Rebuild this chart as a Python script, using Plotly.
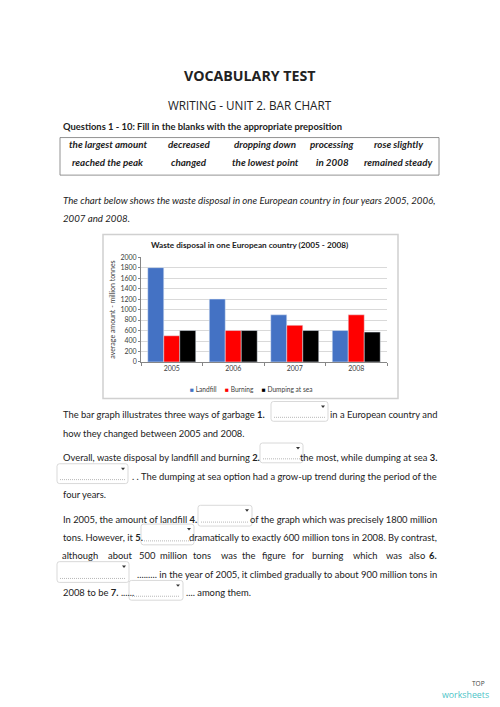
import plotly.graph_objects as go

years = ["2005", "2006", "2007", "2008"]
landfill = [1800, 1200, 900, 600]
burning = [500, 600, 700, 900]
dumping = [600, 600, 600, 570]
series_names = ["Landfill", "Burning", "Dumping at sea"]
series_colors = ["#4472C4", "#FF0000", "#000000"]
y_ticks = [0, 200, 400, 600, 800, 1000, 1200, 1400, 1600, 1800, 2000]

word_row1 = ["the largest amount", "decreased", "dropping down", "processing", "rose slightly"]
word_row2 = ["reached the peak", "changed", "the lowest point", "in 2008", "remained steady"]
word_cols = [108, 189, 265, 332, 399]

BODY = "Lato"
TXT = "#222222"
FS = 9.4

# the page has an 8px body margin, so the figure is 492x699 placed at (8, 8)
W, H = 492, 699


def X(px):
    return (px - 8) / W


def Y(py):
    return 1 - (py - 8) / H


fig = go.Figure()
for vals, name, col in zip([landfill, burning, dumping], series_names, series_colors):
    fig.add_trace(go.Bar(x=years, y=vals, name=name, marker_color=col))

ann = []


def text(x, y, s, size=FS, anchor="left", color=TXT, family=BODY):
    ann.append(dict(x=X(x), y=Y(y), xref="paper", yref="paper", text=s, showarrow=False,
                    xanchor=anchor, yanchor="middle",
                    font=dict(family=family, size=size, color=color)))


shapes = []


def blank(x0, y0, x1, y1):
    # dropdown answer box
    r = 2.5
    path = (f"M {X(x0 + r)},{Y(y0)} L {X(x1 - r)},{Y(y0)} Q {X(x1)},{Y(y0)} {X(x1)},{Y(y0 + r)} "
            f"L {X(x1)},{Y(y1 - r)} Q {X(x1)},{Y(y1)} {X(x1 - r)},{Y(y1)} "
            f"L {X(x0 + r)},{Y(y1)} Q {X(x0)},{Y(y1)} {X(x0)},{Y(y1 - r)} "
            f"L {X(x0)},{Y(y0 + r)} Q {X(x0)},{Y(y0)} {X(x0 + r)},{Y(y0)} Z")
    shapes.append(dict(type="path", xref="paper", yref="paper", path=path,
                       line=dict(color="#cfcfcf", width=0.8), fillcolor="white", layer="above"))
    shapes.append(dict(type="line", xref="paper", yref="paper", x0=X(x0 + 3), x1=X(x1 - 3),
                       y0=Y(y1 - 4), y1=Y(y1 - 4),
                       line=dict(color="#888888", width=0.6, dash="1px,1px"), layer="above"))
    # small dropdown arrow
    ax, ay = x1 - 5, y0 + 5
    tri = f"M {X(ax - 2)},{Y(ay - 1)} L {X(ax + 2)},{Y(ay - 1)} L {X(ax)},{Y(ay + 1.5)} Z"
    shapes.append(dict(type="path", xref="paper", yref="paper", path=tri,
                       line=dict(width=0), fillcolor="#333333", layer="above"))


# headings
text(250, 71, "<b>VOCABULARY TEST</b>", size=14.2, anchor="center", family="Open Sans")
text(250, 101, "WRITING - UNIT 2. BAR CHART", size=11.7, anchor="center", family="Open Sans")
text(61, 123, "<b>Questions 1 - 10: Fill in the blanks with the appropriate preposition</b>", size=9.4)

shapes.append(dict(type="rect", xref="paper", yref="paper", x0=X(60), x1=X(439),
                   y0=Y(172), y1=Y(134), line=dict(color="#777777", width=0.8)))
for cx, w1, w2 in zip(word_cols, word_row1, word_row2):
    text(cx, 141, "<b><i>" + w1 + "</i></b>", size=9.8, anchor="center")
    text(cx, 159, "<b><i>" + w2 + "</i></b>", size=9.8, anchor="center")

text(61, 197, "<i>The chart below shows the waste disposal in one European country in four years 2005, 2006,</i>", size=9.7)
text(61, 215, "<i>2007 and 2008.</i>", size=9.7)

# chart frame, title and legend
shapes.append(dict(type="rect", xref="paper", yref="paper", x0=X(103), x1=X(398),
                   y0=Y(398), y1=Y(232), line=dict(color="#d0d0d0", width=1.5), layer="below"))
text(249, 243, "<b>Waste disposal in one European country (2005 - 2008)</b>", size=8.2, anchor="center")
legend_txt = "     ".join(f"<span style='color:{c}'>■</span> {n}" for n, c in zip(series_names, series_colors))
text(251, 388, legend_txt, size=6.6, anchor="center", color="#404040")

# body text
text(61, 414, "The bar graph illustrates three ways of garbage <b>1.</b>")
blank(271, 401, 328, 421)
text(439, 414, "in a European country and", anchor="right")
text(61, 433, "how they changed between 2005 and 2008.")

text(61, 458, "Overall, waste disposal by landfill and burning <b>2.</b>")
blank(260, 443, 303, 463)
text(439, 458, "the most, while dumping at sea <b>3.</b>", anchor="right")
blank(57, 464, 128, 484)
text(439, 477, ". . The dumping at sea option had a grow-up trend during the period of the", anchor="right")
text(61, 495, "four years.")

text(61, 520, "In 2005, the amount of landfill <b>4.</b>")
blank(198, 506, 252, 527)
text(439, 520, "of the graph which was precisely 1800 million", anchor="right")
text(61, 539, "tons. However, it <b>5.</b>")
blank(141, 525, 194, 546)
text(439, 539, "dramatically to exactly 600 million tons in 2008. By contrast,", anchor="right")

# justified line: word centres
line8 = [(80, "although"), (119.5, "about"), (147.5, "500"), (173.5, "million"), (202, "tons"),
         (228.5, "was"), (248.5, "the"), (274, "figure"), (298, "for"), (328, "burning"),
         (365, "which"), (393.5, "was"), (416.5, "also")]
for px, w in line8:
    text(px, 557, w, anchor="center")
text(439, 557, "<b>6.</b>", anchor="right")
blank(57, 563, 129, 584)
text(439, 576, "......... in the year of 2005, it climbed gradually to about 900 million tons in", anchor="right")
text(61, 594, "2008 to be <b>7.</b> ......")
blank(129, 582, 183, 602)
text(184, 594, ".... among them.")

# logo
text(478, 686, "TOP", size=6.5, anchor="center", color="#444444", family="Open Sans")
text(491, 698, "worksheets", size=8.8, anchor="right", color="#4cc4c7", family="Open Sans")

fig.update_layout(
    width=W, height=H,
    margin=dict(l=0, r=0, t=0, b=0),
    paper_bgcolor="white", plot_bgcolor="white",
    barmode="group", bargap=0.22, bargroupgap=0,
    showlegend=False,
    annotations=ann, shapes=shapes,
    xaxis=dict(domain=[X(141), X(387)], showgrid=False, showline=True, linecolor="#868686",
               linewidth=0.8, ticks="outside", tickson="boundaries", ticklen=3,
               tickcolor="#868686", tickfont=dict(family=BODY, size=7, color="#404040")),
    yaxis=dict(domain=[Y(361), Y(255)], range=[0, 2000], tickvals=y_ticks,
               showgrid=True, gridcolor="#d9d9d9", gridwidth=0.8, showline=True,
               linecolor="#868686", linewidth=0.8, ticks="outside", ticklen=2,
               tickcolor="#868686", zeroline=False,
               tickfont=dict(family=BODY, size=7, color="#404040"),
               title=dict(text="average amount - million tonnes", standoff=3,
                          font=dict(family=BODY, size=7, color="#404040"))),
)

fig.write_html("out.html")
